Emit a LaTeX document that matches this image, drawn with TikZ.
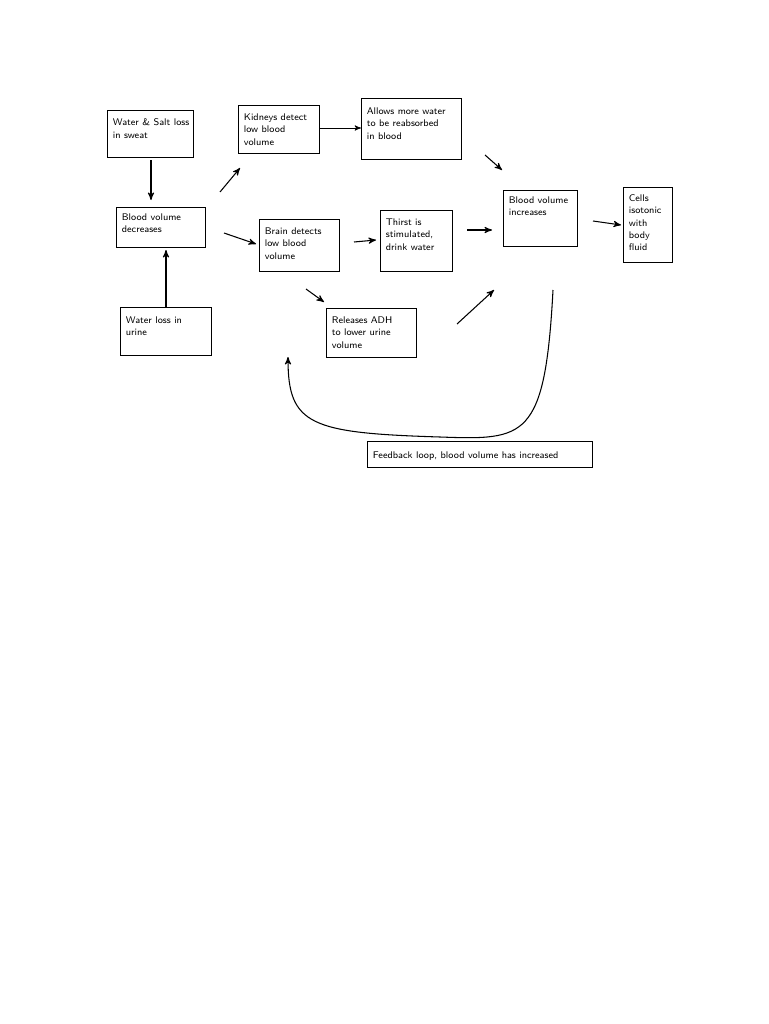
\documentclass[tikz,border=0pt]{standalone}
\usepackage{tikz}
\usetikzlibrary{arrows}
\tikzset{
    box/.style = {draw=black, thin, anchor=north west, inner sep=0pt},
    txt/.style = {anchor=north west, align=left, inner sep=2pt,
                  font=\sffamily\fontsize{5.5}{7}\selectfont},
    link/.style = {->, >=stealth', semithick}
}
\begin{document}
\begin{tikzpicture}[x=0.02cm, y=-0.02cm]
    \useasboundingbox (0,0) rectangle (768,1024);

    \node [box, minimum width=86*0.02cm, minimum height=47*0.02cm] (sweat) at (107,110) {};
    \node [txt] at (109,115) {Water \& Salt loss\\in sweat};
    \node [box, minimum width=81*0.02cm, minimum height=48*0.02cm] (kidney) at (238,105) {};
    \node [txt] at (240,110) {Kidneys detect\\low blood\\volume};
    \node [box, minimum width=100*0.02cm, minimum height=61*0.02cm] (allow) at (361,98) {};
    \node [txt] at (363,104) {Allows more water\\to be reabsorbed\\in blood};
    \node [box, minimum width=89*0.02cm, minimum height=40*0.02cm] (decr) at (116,207) {};
    \node [txt] at (118,210) {Blood volume\\decreases};
    \node [box, minimum width=80*0.02cm, minimum height=52*0.02cm] (brain) at (259,219) {};
    \node [txt] at (261,224) {Brain detects\\low blood\\volume};
    \node [box, minimum width=72*0.02cm, minimum height=61*0.02cm] (thirst) at (380,210) {};
    \node [txt] at (382,215) {Thirst is\\stimulated,\\drink water};
    \node [box, minimum width=74*0.02cm, minimum height=56*0.02cm] (incr) at (503,190) {};
    \node [txt] at (505,193) {Blood volume\\increases};
    \node [box, minimum width=49*0.02cm, minimum height=75*0.02cm] (cells) at (623,187) {};
    \node [txt] at (625,191) {Cells\\isotonic\\with\\body\\fluid};
    \node [box, minimum width=91*0.02cm, minimum height=48*0.02cm] (urine) at (120,307) {};
    \node [txt] at (122,313) {Water loss in\\urine};
    \node [box, minimum width=90*0.02cm, minimum height=49*0.02cm] (adh) at (326,308) {};
    \node [txt] at (328,313) {Releases ADH\\to lower urine\\volume};
    \node [box, minimum width=225*0.02cm, minimum height=26*0.02cm] (loop) at (367,441) {};
    \node [txt] at (369,448) {Feedback loop, blood volume has increased};

    % arrows
    \draw [link] (151,160) -- (151,200);
    \draw [link] (166,307) -- (166,250);
    \draw [link] (220,192) -- (240,168);
    \draw [->, >=stealth', thin] (319,128) -- (361,128);
    \draw [link] (224,233) -- (256,244);
    \draw [link] (354,242) -- (376,240);
    \draw [link] (467,230) -- (492,230);
    \draw [link] (485,155) -- (502,170);
    \draw [link] (306,289) -- (324,302);
    \draw [link] (457,324) -- (494,290);
    \draw [link] (593,221) -- (621,225);
    \coordinate (loopstart) at (553,290);
    \coordinate (loopend) at (288,357);
    \draw [link] (loopstart) .. controls (545,440) and (525,440) .. (440,437)
        .. controls (310,433) and (288,425) .. (loopend);
\end{tikzpicture}
\end{document}
